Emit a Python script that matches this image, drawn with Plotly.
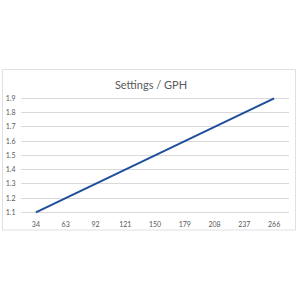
import plotly.graph_objects as go

categories = [34, 63, 92, 121, 150, 179, 208, 237, 266]
gph = [1.1, 1.2, 1.3, 1.4, 1.5, 1.6, 1.7, 1.8, 1.9]
y_ticks = [1.1, 1.2, 1.3, 1.4, 1.5, 1.6, 1.7, 1.8, 1.9]
title = "Settings / GPH"

H = 300.0
fig = go.Figure()
fig.add_trace(go.Scatter(
    x=categories, y=gph, mode="lines",
    line=dict(color="#1F4E9A", width=2),
    cliponaxis=False, hoverinfo="skip",
))

fig.update_layout(
    width=300, height=300,
    margin=dict(l=0, r=0, t=0, b=0),
    paper_bgcolor="white", plot_bgcolor="white",
    showlegend=False,
    title=dict(text=title, x=151/300, xanchor="center", y=1-85/H, yanchor="middle",
               font=dict(family="Lato, Open Sans, sans-serif", size=11, color="#595959")),
    font=dict(family="Lato, Open Sans, sans-serif", size=7, color="#595959"),
    shapes=[dict(type="rect", xref="paper", yref="paper",
                 x0=2.5/300, x1=295.5/300, y0=1-230/H, y1=1-69.5/H,
                 line=dict(color="#E0E0E0", width=1), fillcolor="rgba(0,0,0,0)", layer="below")],
)

fig.update_xaxes(
    domain=[21/300, 289/300],
    range=[19.5, 280.5],
    tickmode="array", tickvals=categories, ticktext=[str(c) for c in categories],
    showgrid=False, zeroline=False, showline=False,
    ticks="outside", ticklen=2, tickcolor="rgba(0,0,0,0)",
    tickfont=dict(size=7, color="#595959"),
)
fig.update_yaxes(
    domain=[1-215.3/H, 1-84.05/H],
    range=[1.079, 2.0],
    tickmode="array", tickvals=y_ticks, ticktext=[f"{v:.1f}" for v in y_ticks],
    showgrid=True, gridcolor="#D9D9D9", gridwidth=1,
    zeroline=False, showline=False,
    ticks="outside", ticklen=3, tickcolor="rgba(0,0,0,0)",
    tickfont=dict(size=7, color="#595959"),
)

fig.write_html("out.html")
